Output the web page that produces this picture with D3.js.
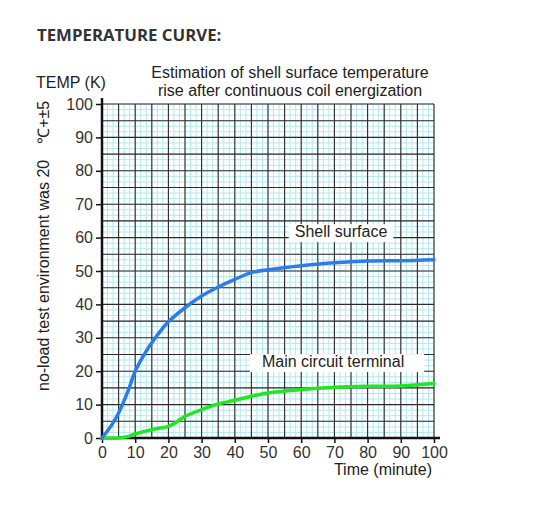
<!DOCTYPE html>
<html>
<head>
<meta charset="utf-8">
<script src="https://cdn.jsdelivr.net/npm/d3@7"></script>
<style>
  body { margin: 0; background: #fff; }
  svg { display: block; }
</style>
</head>
<body>
<div id="chart"></div>
<script>
// 読み取った値
const shell_time = [0, 3, 5, 8, 10, 13, 15, 18, 20, 25, 30, 35, 40, 45, 50, 60, 70, 80, 90, 100];
const shell_temp = [0, 4, 7.5, 14.5, 20, 25.5, 28.5, 32.5, 34.8, 39, 42.5, 45.2, 47.5, 49.5, 50.4, 51.6, 52.5, 53, 53.1, 53.4];

const terminal_time = [0, 5, 8, 10, 15, 20, 22, 25, 30, 35, 40, 45, 50, 60, 70, 80, 90, 100];
const terminal_temp = [0, 0, 0.5, 1.2, 2.5, 3.5, 4.5, 6.5, 8.5, 10.2, 11.3, 12.5, 13.5, 14.5, 15.2, 15.5, 15.6, 16.3];

const x_ticks = [0, 10, 20, 30, 40, 50, 60, 70, 80, 90, 100];
const y_ticks = [0, 10, 20, 30, 40, 50, 60, 70, 80, 90, 100];

// ラベルの位置(データ座標)
const shell_label = { text: 'Shell surface', t: 72, v: 61.4 };
const terminal_label = { text: 'Main circuit terminal', t: 69.6, v: 22.5 };

const W = 554, H = 520;
const font = 'Liberation Sans, Arial, sans-serif';

const svg = d3.select('#chart').append('svg')
  .attr('width', W).attr('height', H);

const xScale = d3.scaleLinear().domain([0, 100]).range([102, 434]);
const yScale = d3.scaleLinear().domain([0, 100]).range([438, 104]);

// ページの見出し
svg.append('text')
  .attr('x', 37).attr('y', 41)
  .attr('font-family', 'Open Sans, sans-serif')
  .attr('font-weight', 'bold')
  .attr('font-size', 16.8)
  .attr('fill', '#333')
  .text('TEMPERATURE CURVE:');

// 細かい方眼(水色)
const minor = d3.range(0, 100.01, 5 / 3);
const grid = svg.append('g');
grid.selectAll('.vminor').data(minor).enter().append('line')
  .attr('x1', d => xScale(d)).attr('x2', d => xScale(d))
  .attr('y1', yScale(0)).attr('y2', yScale(100))
  .attr('stroke', '#b2e8f2').attr('stroke-width', 1);
grid.selectAll('.hminor').data(minor).enter().append('line')
  .attr('y1', d => yScale(d)).attr('y2', d => yScale(d))
  .attr('x1', xScale(0)).attr('x2', xScale(100))
  .attr('stroke', '#b2e8f2').attr('stroke-width', 1);

// 5ごとの黒線
const major = d3.range(0, 101, 5);
grid.selectAll('.vmajor').data(major).enter().append('line')
  .attr('x1', d => xScale(d)).attr('x2', d => xScale(d))
  .attr('y1', yScale(0)).attr('y2', yScale(100))
  .attr('stroke', '#2a2a2a').attr('stroke-width', 1.1);
grid.selectAll('.hmajor').data(major).enter().append('line')
  .attr('y1', d => yScale(d)).attr('y2', d => yScale(d))
  .attr('x1', xScale(0)).attr('x2', xScale(100))
  .attr('stroke', '#2a2a2a').attr('stroke-width', 1.1);

// 軸
const axisx = d3.axisBottom(xScale).tickValues(x_ticks).tickSize(5).tickPadding(4);
const axisy = d3.axisLeft(yScale).tickValues(y_ticks).tickSize(6).tickPadding(3);

const gx = svg.append('g')
  .attr('transform', 'translate(0,' + yScale(0) + ')')
  .call(axisx);
const gy = svg.append('g')
  .attr('transform', 'translate(' + xScale(0) + ',0)')
  .call(axisy);

[gx, gy].forEach(g => {
  g.select('.domain').remove();
  g.selectAll('.tick line').attr('stroke', '#111').attr('stroke-width', 1.5);
  g.selectAll('.tick text')
    .attr('font-family', font).attr('font-size', 16).attr('fill', '#333');
});

// 太い軸線
svg.append('line')
  .attr('x1', xScale(0)).attr('x2', xScale(100) + 6)
  .attr('y1', yScale(0)).attr('y2', yScale(0))
  .attr('stroke', '#111').attr('stroke-width', 2.5);
svg.append('line')
  .attr('x1', xScale(0)).attr('x2', xScale(0))
  .attr('y1', yScale(0) + 2).attr('y2', yScale(100) - 6)
  .attr('stroke', '#111').attr('stroke-width', 2.5);

// ラベル枠(白)
const addLabel = (lab, padL, padR) => {
  const g = svg.append('g');
  const txt = g.append('text')
    .attr('x', xScale(lab.t)).attr('y', yScale(lab.v))
    .attr('text-anchor', 'middle')
    .attr('dominant-baseline', 'middle')
    .attr('font-family', font).attr('font-size', 16).attr('fill', '#222')
    .text(lab.text);
  const bb = txt.node().getBBox();
  g.insert('rect', 'text')
    .attr('x', bb.x - padL).attr('y', bb.y + 1)
    .attr('width', bb.width + padL + padR).attr('height', bb.height + 1)
    .attr('fill', '#fff');
};
addLabel(shell_label, 6, 6);
addLabel(terminal_label, 12, 20);

// 曲線
const line = (times) => d3.line()
  .x((d, i) => xScale(times[i]))
  .y(d => yScale(d))
  .curve(d3.curveCatmullRom.alpha(0.5));

svg.append('path')
  .datum(terminal_temp)
  .attr('fill', 'none')
  .attr('stroke', '#1ee81e')
  .attr('stroke-width', 3.5)
  .attr('stroke-linecap', 'round')
  .attr('d', line(terminal_time));

svg.append('path')
  .datum(shell_temp)
  .attr('fill', 'none')
  .attr('stroke', '#2b7de9')
  .attr('stroke-width', 3.5)
  .attr('stroke-linecap', 'round')
  .attr('d', line(shell_time));

// タイトル類
const title = svg.append('text')
  .attr('text-anchor', 'middle')
  .attr('font-family', font).attr('font-size', 16).attr('fill', '#222');
title.append('tspan').attr('x', 290).attr('y', 78)
  .text('Estimation of shell surface temperature');
title.append('tspan').attr('x', 290).attr('y', 96)
  .text('rise after continuous coil energization');

svg.append('text')
  .attr('x', 36).attr('y', 88)
  .attr('font-family', font).attr('font-size', 16).attr('fill', '#222')
  .text('TEMP (K)');

svg.append('text')
  .attr('x', 432).attr('y', 475)
  .attr('text-anchor', 'end')
  .attr('font-family', font).attr('font-size', 16).attr('fill', '#222')
  .text('Time (minute)');

const ylab = svg.append('text')
  .attr('transform', 'translate(49,391) rotate(-90)')
  .attr('font-family', font).attr('font-size', 16).attr('fill', '#222');
ylab.append('tspan').text('no-load test environment was 20');
ylab.append('tspan').attr('dx', 16).text('℃+±5');
</script>
</body>
</html>
